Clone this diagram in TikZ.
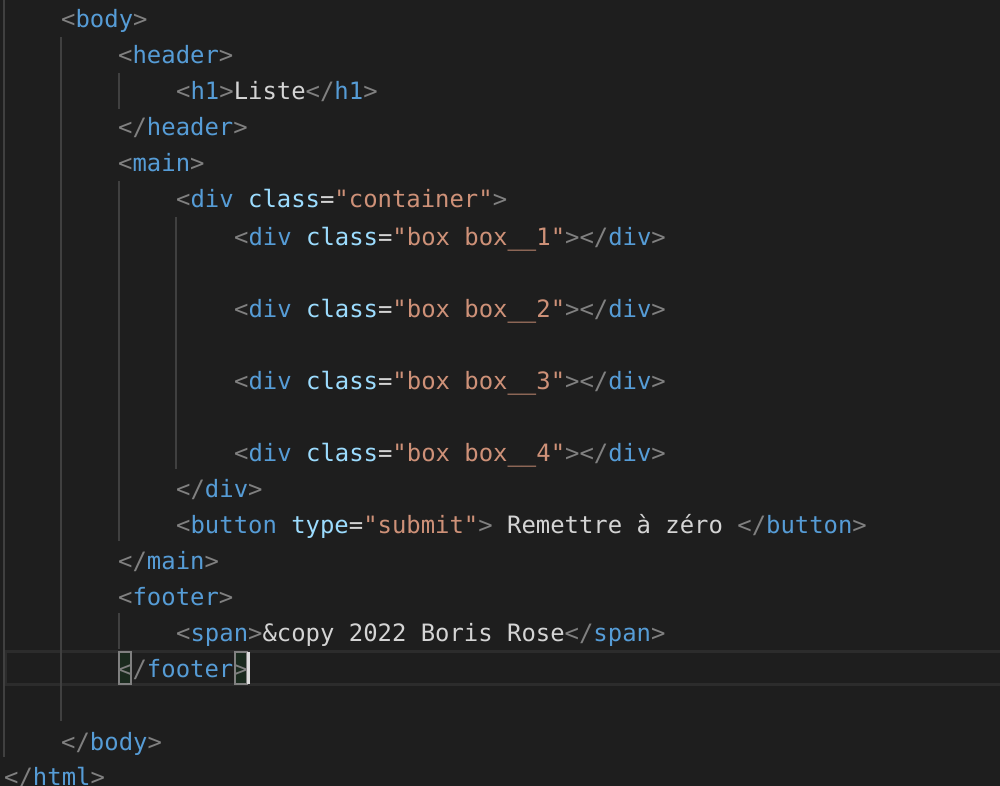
\documentclass[tikz,border=0pt]{standalone}
\usepackage{fontspec}
\setmonofont{DejaVu Sans Mono}
\definecolor{bg}{HTML}{1E1E1E}
\definecolor{br}{HTML}{808080}
\definecolor{tg}{HTML}{569CD6}
\definecolor{at}{HTML}{9CDCFE}
\definecolor{st}{HTML}{CE9178}
\definecolor{tx}{HTML}{D4D4D4}
\definecolor{gd}{HTML}{404040}
\definecolor{hl}{HTML}{2C2C2C}
\definecolor{mb}{HTML}{1A2A1E}
\newcommand{\B}[1]{\textcolor{br}{#1}}
\newcommand{\T}[1]{\textcolor{tg}{#1}}
\newcommand{\A}[1]{\textcolor{at}{#1}}
\newcommand{\Sv}[1]{\textcolor{st}{#1}}
\newcommand{\X}[1]{\textcolor{tx}{#1}}
\newcommand{\Op}[1]{\B{<}\T{#1}\B{>}}
\newcommand{\Cl}[1]{\B{</}\T{#1}\B{>}}
\newcommand{\Dv}[1]{\B{<}\T{div} \A{class}\X{=}\Sv{"box box\_\_#1"}\B{></}\T{div}\B{>}}
\begin{document}
\begin{tikzpicture}[x=1pt,y=-1pt,
  code/.style={anchor=base west,inner sep=0pt,font=\ttfamily\fontsize{23.9}{24}\selectfont},
  guide/.style={draw=gd,line width=1.2pt}]
\fill[bg] (0,0) rectangle (1000,786);
\useasboundingbox (0,0) rectangle (1000,786);
% current line
\draw[hl,line width=3pt] (5,651) -- (1000,651) (5,684) -- (1000,684);
\draw[hl,line width=3pt] (5,651) -- (5,684);
\filldraw[fill=mb,draw=br,line width=1.5pt] (119,652) rectangle (131,684);
\filldraw[fill=mb,draw=br,line width=1.5pt] (235,652) rectangle (247,684);
\fill[tx!80] (246.5,652) rectangle (249.5,684);
% guides
\draw[guide] (4,0) -- (4,757);
\draw[guide] (61,37) -- (61,721);
\draw[guide] (119,73) -- (119,109);
\draw[guide] (119,181) -- (119,541);
\draw[guide] (119,613) -- (119,649);
\draw[guide] (176,217) -- (176,469);
% code
\node[code] (l1) at (61,28) {\Op{body}};
\node[code] (l2) at (118,64) {\Op{header}};
\node[code] (l3) at (176,100) {\Op{h1}\X{Liste}\Cl{h1}};
\node[code] (l4) at (118,136) {\Cl{header}};
\node[code] (l5) at (118,172) {\Op{main}};
\node[code] (l6) at (176,208) {\B{<}\T{div} \A{class}\X{=}\Sv{"container"}\B{>}};
\node[code] (l7) at (234,245) {\Dv{1}};
\node[code] (l8) at (234,317) {\Dv{2}};
\node[code] (l9) at (234,389) {\Dv{3}};
\node[code] (l10) at (234,461) {\Dv{4}};
\node[code] (l11) at (176,497) {\Cl{div}};
\node[code] (l12) at (176,533) {\B{<}\T{button} \A{type}\X{=}\Sv{"submit"}\B{>}\X{\ Remettre à zéro\ }\Cl{button}};
\node[code] (l13) at (118,569) {\Cl{main}};
\node[code] (l14) at (118,605) {\Op{footer}};
\node[code] (l15) at (176,641) {\Op{span}\X{\&copy 2022 Boris Rose}\Cl{span}};
\node[code] (l16) at (118,677) {\Cl{footer}};
\node[code] (l17) at (61,750) {\Cl{body}};
\node[code] (l18) at (4,785) {\Cl{html}};
\end{tikzpicture}
\end{document}
